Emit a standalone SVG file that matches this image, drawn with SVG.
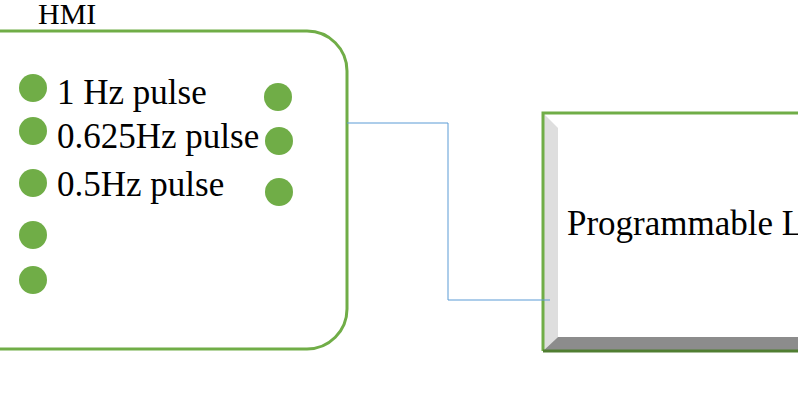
<svg xmlns="http://www.w3.org/2000/svg" width="798" height="419" viewBox="0 0 798 419">
<style>
.t{font-family:"Liberation Serif","Times New Roman","DejaVu Serif",serif;fill:#000}
.d{fill:#70ad47}
</style>
<rect width="798" height="419" fill="#fff"/>
<g id="hmi">
<rect x="-60" y="31" width="407" height="318" rx="40" fill="#fff" stroke="#70ad47" stroke-width="3"/>
<text class="t" x="38" y="24" font-size="30">HMI</text>
<circle class="d" cx="33" cy="88" r="14"/>
<circle class="d" cx="33" cy="131" r="14"/>
<circle class="d" cx="33" cy="183" r="14"/>
<circle class="d" cx="33" cy="235" r="14"/>
<circle class="d" cx="33" cy="280" r="14"/>
<circle class="d" cx="278" cy="97" r="14"/>
<circle class="d" cx="279" cy="141" r="14"/>
<circle class="d" cx="279" cy="192" r="14"/>
<text class="t" x="57" y="104" font-size="35">1 Hz pulse</text>
<text class="t" x="57" y="148" font-size="35">0.625Hz pulse</text>
<text class="t" x="57" y="196" font-size="35">0.5Hz pulse</text>
</g>
<g id="plc">
<rect x="543" y="113" width="270" height="238" fill="#fff"/>
<polygon points="543,113 558,128 558,337 543,351" fill="#dedede"/>
<polygon points="543,351 558,337 813,337 813,351" fill="#8c8c8c"/>
<path d="M543,351 V113 H813" fill="none" stroke="#70ad47" stroke-width="3"/>
<path d="M543,351 H813" fill="none" stroke="#507e32" stroke-width="3"/>
<text class="t" x="567" y="235" font-size="35">Programmable L</text>
</g>
<g id="connectors">
<polyline points="347,123 448,123 448,300 550,300" fill="none" stroke="#5b9bd5" stroke-width="1"/>
</g>
</svg>
